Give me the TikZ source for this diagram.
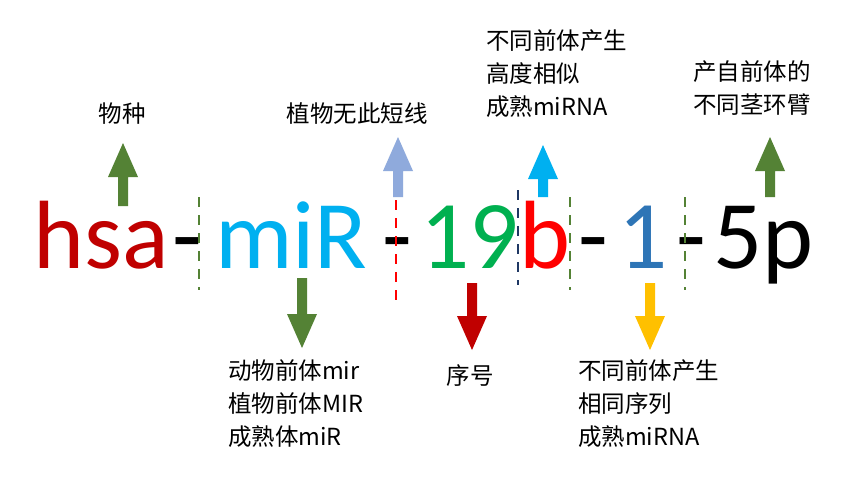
\documentclass[tikz,border=0pt]{standalone}
\usepackage{fontspec}
\setmainfont{Carlito}
\newfontfamily\cjk{Noto Sans CJK SC}
\definecolor{cRed}{RGB}{192,0,0}
\definecolor{cCyan}{RGB}{0,176,240}
\definecolor{cGreen}{RGB}{0,176,80}
\definecolor{cBlue}{RGB}{46,117,182}
\definecolor{cOlive}{RGB}{84,130,53}
\definecolor{cLblue}{RGB}{143,170,220}
\definecolor{cGold}{RGB}{255,192,0}
\definecolor{cNavy}{RGB}{31,56,100}
\newcommand{\blockarrow}[4]{% color, x, tail y, tip y
  \pgfmathsetmacro{\dir}{(#4>#3)?1:-1}
  \fill[#1] (#2-5,#3) -- (#2+5,#3) -- (#2+5,#4-\dir*34) -- (#2+15,#4-\dir*34) -- (#2,#4) -- (#2-15,#4-\dir*34) -- (#2-5,#4-\dir*34) -- cycle;}
\begin{document}
\begin{tikzpicture}[x=1pt,y=-1pt,
  big/.style={inner sep=0,anchor=base west,font=\fontsize{97}{97}\selectfont},
  lab/.style={inner sep=0,font=\cjk\fontsize{23.5}{33}\selectfont,align=left},
  sep/.style={dash pattern=on 10pt off 8pt,line width=2pt}]
\useasboundingbox[fill=white] (0,0) rectangle (867,488);
\node[big,text=cRed] (hsa) at (33,268) {hsa};
\node[big] (d1) at (172,268) {-};
\node[big,text=cCyan] (mir) at (215,268) {miR};
\node[big] (d2) at (382,268) {-};
\node[big,text=cGreen] (n19) at (420,268) {19};
\node[big,text=red] (b) at (519,268) {b};
\node[big] (d3) at (578,268) {-};
\node[big,text=cBlue] (one) at (618,268) {1};
\node[big] (d4) at (676,268) {-};
\node[big] (fp) at (713,268) {5p};
\draw[sep,cOlive] (199,197) -- (199,290);
\draw[sep,red] (396,200) -- (396,300);
\draw[sep,cNavy] (518,190) -- (518,285);
\draw[sep,cOlive] (570,197) -- (570,290);
\draw[sep,cOlive] (685,197) -- (685,290);
\blockarrow{cOlive}{123}{206}{143}
\blockarrow{cLblue}{398}{197}{137}
\blockarrow{cCyan}{543}{197}{145}
\blockarrow{cOlive}{770}{197}{137}
\blockarrow{cOlive}{302}{278}{348}
\blockarrow{cRed}{472}{283}{350}
\blockarrow{cGold}{650}{283}{350}
\node[lab] (l1) at (122,114) {物种};
\node[lab] (l2) at (357,114) {植物无此短线};
\node[lab,anchor=north west] (l3) at (486,29) {不同前体产生\\高度相似\\成熟miRNA};
\node[lab,anchor=north west] (l4) at (693,60) {产自前体的\\不同茎环臂};
\node[lab,anchor=north west] (l5) at (228,359) {动物前体mir\\植物前体MIR\\成熟体miR};
\node[lab] (l6) at (470,376) {序号};
\node[lab,anchor=north west] (l7) at (578,359) {不同前体产生\\相同序列\\成熟miRNA};
\end{tikzpicture}
\end{document}
